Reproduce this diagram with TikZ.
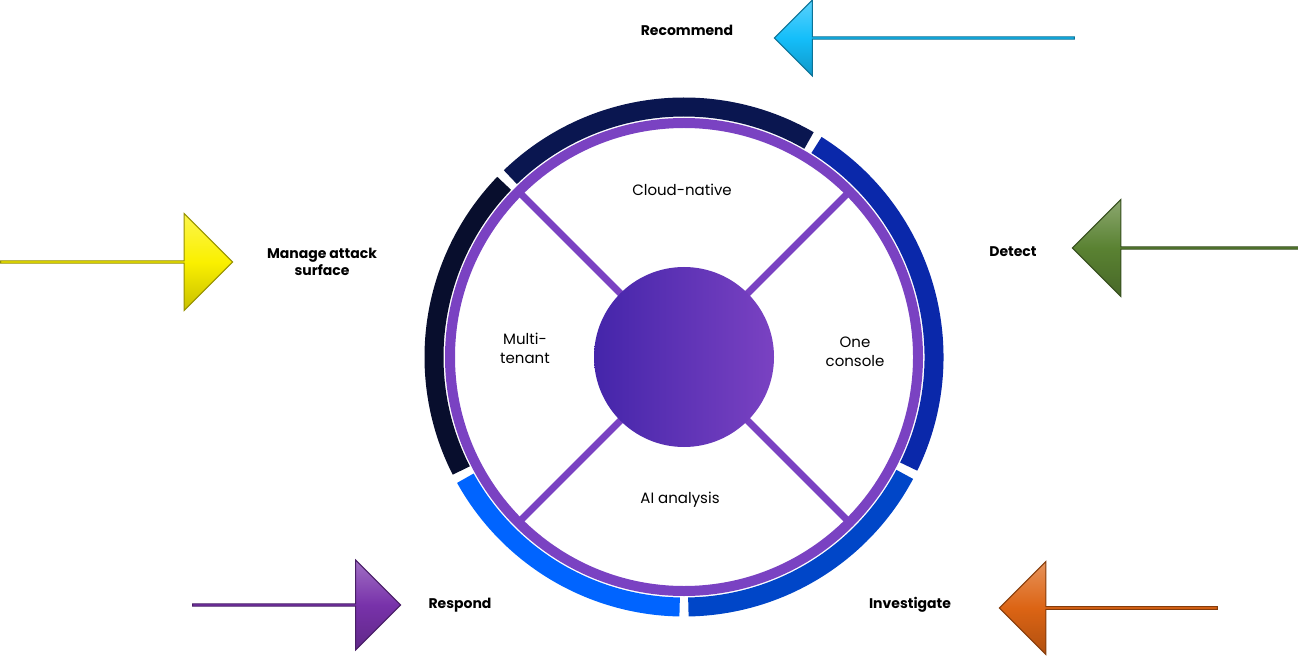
\documentclass[tikz,border=0pt]{standalone}
\usepackage{fontspec}
\setmainfont{Poppins}
\usetikzlibrary{shapes.arrows,calc}
\definecolor{ringp}{HTML}{7A42C2}
\definecolor{s1}{RGB}{10,22,80}
\definecolor{s2}{RGB}{10,40,170}
\definecolor{s3}{RGB}{0,70,200}
\definecolor{s4}{RGB}{0,100,255}
\definecolor{s5}{RGB}{8,14,45}
\definecolor{acyan}{RGB}{20,190,250}
\definecolor{agreen}{RGB}{90,130,50}
\definecolor{ayellow}{RGB}{250,240,0}
\definecolor{apurple}{RGB}{120,50,170}
\definecolor{aorange}{RGB}{220,100,20}
\begin{document}
\begin{tikzpicture}[x=1pt,y=1pt,
  lbl/.style={font=\bfseries\fontsize{14}{17}\selectfont,align=center,text=black},
  inl/.style={font=\fontsize{15}{19}\selectfont,align=center,text=black},
  seg/.style={line width=19pt},
  spoke/.style={draw=ringp,line width=7pt},
  barr/.style={single arrow,draw=#1!60!black,line width=1pt,inner sep=0pt,top color=#1!70!white,bottom color=#1!80!black,middle color=#1}
]
\useasboundingbox (0,0) rectangle (1298,665);
\coordinate (c) at (684,308);
\foreach \a in {45,135,225,315}{\draw[spoke] (c) -- ++(\a:234);}
\draw[seg,s1] ($(c)+(134:250)$) arc[start angle=134,end angle=60,radius=250];
\draw[seg,s2] ($(c)+(58:250)$) arc[start angle=58,end angle=-26,radius=250];
\draw[seg,s3] ($(c)+(-28:250)$) arc[start angle=-28,end angle=-89,radius=250];
\draw[seg,s4] ($(c)+(-91:250)$) arc[start angle=-91,end angle=-151,radius=250];
\draw[seg,s5] ($(c)+(-153:250)$) arc[start angle=-153,end angle=-224,radius=250];
\draw[ringp,line width=10pt] (c) circle[radius=234];
\node[circle,minimum size=180pt,left color=ringp!70!blue!80!black,right color=ringp,inner sep=0pt] (hub) at (c) {};
\node[inl] (cn) at (682,475) {Cloud-native};
\node[inl] (oc) at (855,313) {One\\console};
\node[inl] (mt) at (525,317) {Multi-\\tenant};
\node[inl] (ai) at (680,165) {AI analysis};
\node[lbl] (rec) at (687,635) {Recommend};
\node[lbl] (man) at (322,403) {Manage attack\\surface};
\node[lbl] (det) at (1013,413) {Detect};
\node[lbl] (res) at (460,60) {Respond};
\node[lbl] (inv) at (910,60) {Investigate};
\node[barr=acyan,minimum height=300pt,minimum width=76pt,single arrow head extend=16pt,shape border rotate=180] (a1) at (925,627) {};
\node[barr=agreen,minimum height=230pt,minimum width=97pt,single arrow head extend=19pt,shape border rotate=180] (a2) at (1188,417) {};
\node[barr=ayellow,minimum height=232pt,minimum width=97pt,single arrow head extend=19pt] (a3) at (116,403) {};
\node[barr=apurple,minimum height=208pt,minimum width=90pt,single arrow head extend=18pt] (a4) at (296,60) {};
\node[barr=aorange,minimum height=218pt,minimum width=93pt,single arrow head extend=18pt,shape border rotate=180] (a5) at (1109,57) {};
\end{tikzpicture}
\end{document}
